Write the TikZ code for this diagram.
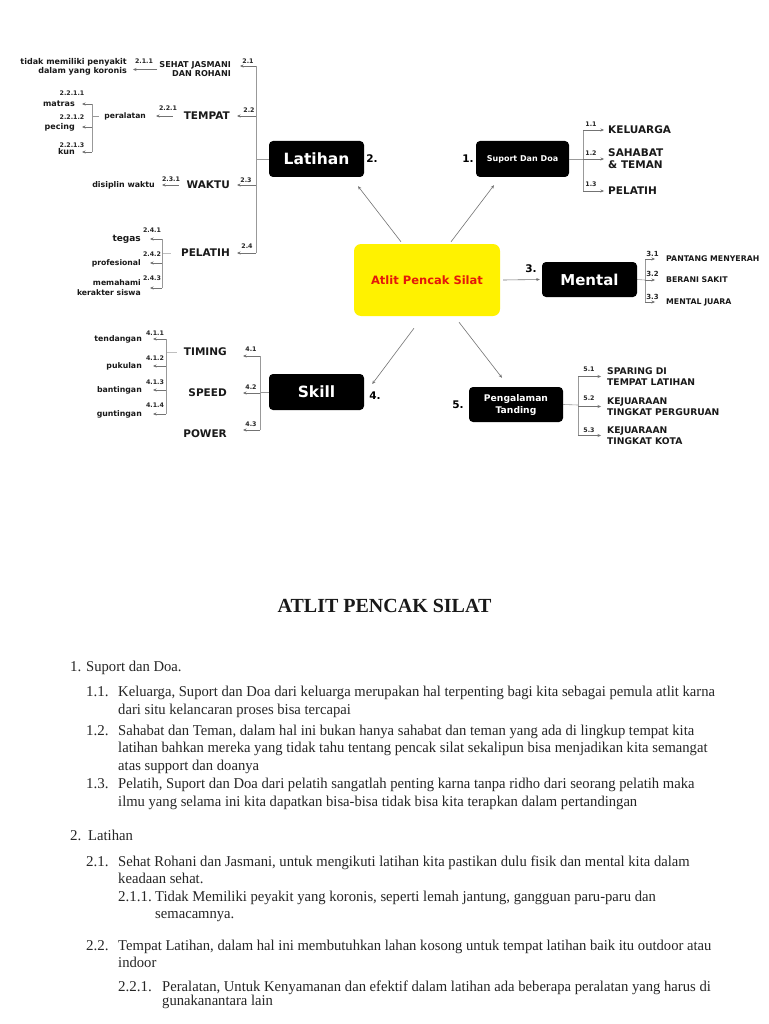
\documentclass[tikz,border=0pt]{standalone}
\usepackage{fontspec}
\setmainfont{Liberation Serif}
\newfontfamily\dv{DejaVu Sans}
\newfontfamily\bodyf{Liberation Serif}[FakeStretch=0.975]
\usetikzlibrary{arrows.meta}
\newcommand{\vf}[2]{\dv\bfseries\fontsize{#1}{#2}\selectfont}
\definecolor{titred}{RGB}{228,24,10}
\tikzset{
  boxn/.style={fill=black, rounded corners=4pt, text=white, minimum width=95pt, minimum height=36pt, inner sep=0pt, align=center},
  mm/.style={inner sep=0pt, text=black!90},
  br/.style={draw=black!40, line width=0.6pt},
  arr/.style={draw=black!55, line width=0.6pt, -{Stealth[length=3.5pt,width=3pt]}},
  nl/.style={inner sep=0pt, font=\vf{6.3}{7}, text=black!85},
  nn/.style={inner sep=0pt, font=\vf{10.5}{12}},
  body/.style={anchor=base west, inner sep=0pt, font=\bodyf\fontsize{15}{18}\selectfont, text=black!85},
  bnum/.style={anchor=base west, inner sep=0pt, font=\fontsize{15}{18}\selectfont, text=black!85}
}
\begin{document}
\begin{tikzpicture}[x=1pt,y=-1pt]
\fill[white] (0,0) rectangle (768,1024);
\useasboundingbox (0,0) rectangle (768,1024);

% ---------- main boxes ----------
\node[fill=yellow, rounded corners=7pt, minimum width=146pt, minimum height=72pt, inner sep=0pt, text=titred, font=\vf{11.5}{13}] (c) at (427,280) {Atlit Pencak Silat};
\node[boxn, font=\vf{15.5}{17}] (lat) at (316.5,159) {Latihan};
\node[boxn, font=\vf{15.5}{17}] (sk) at (316.5,392) {Skill};
\node[boxn, minimum width=93pt, font=\vf{8}{9}] (sup) at (522.5,159) {Suport Dan Doa};
\node[boxn, minimum height=35pt, font=\vf{15}{17}] (men) at (589.5,279.5) {Mental};
\node[boxn, minimum width=94pt, minimum height=35pt, font=\vf{9.2}{12}] (pen) at (516,404.5) {Pengalaman\\Tanding};

\node[nn] (n1) at (468,159) {1.};
\node[nn] (n2) at (372,159) {2.};
\node[nn] (n3) at (531,269) {3.};
\node[nn] (n4) at (375,396) {4.};
\node[nn] (n5) at (458,405) {5.};

% ---------- arrows from centre ----------
\draw[arr] ([xshift=-26pt,yshift=2pt]c.north) -- ([xshift=41.5pt,yshift=-9pt]lat.south);
\draw[arr] ([xshift=24pt,yshift=2pt]c.north) -- ([xshift=-28.5pt,yshift=-8pt]sup.south);
\draw[arr] ([xshift=-13pt,yshift=-12pt]c.south) -- ([xshift=8pt,yshift=8pt]sk.east);
\draw[arr] ([xshift=32pt,yshift=-6pt]c.south) -- ([xshift=-14pt,yshift=9pt]pen.north);
\draw[arr] ([xshift=3pt]c.east) -- ([xshift=-2pt]men.west);

% ---------- 1. Suport dan Doa ----------
\coordinate (sb) at (583,159);
\node[mm, anchor=west, font=\vf{10.5}{12}] (k1) at (608,130) {KELUARGA};
\node[mm, anchor=west, align=left, font=\vf{10.5}{12}] (k2) at (608,159) {SAHABAT\\\& TEMAN};
\node[mm, anchor=west, font=\vf{10.5}{12}] (k3) at (608,191) {PELATIH};
\draw[br] (sup.east) -- (sb);
\draw[br] (sb |- k1) -- (sb |- k3);
\foreach \k in {k1,k2,k3} \draw[arr, shorten >=4pt] (sb |- \k) -- (\k.west);
\node[nl] at (591,124) {1.1};
\node[nl] at (591,153) {1.2};
\node[nl] at (591,184) {1.3};

% ---------- 3. Mental ----------
\coordinate (mb) at (645,280);
\node[mm, anchor=west, font=\vf{7.8}{9}] (m1) at (666,259) {PANTANG MENYERAH};
\node[mm, anchor=west, font=\vf{7.8}{9}] (m2) at (666,280) {BERANI SAKIT};
\node[mm, anchor=west, font=\vf{7.8}{9}] (m3) at (666,302) {MENTAL JUARA};
\draw[br] (men.east) -- (mb);
\draw[br] (mb |- m1) -- (mb |- m3);
\foreach \k in {m1,m2,m3} \draw[arr, shorten >=11pt] (mb |- \k) -- (\k.west);
\node[nl, font=\vf{7}{8}] at (652.5,254) {3.1};
\node[nl, font=\vf{7}{8}] at (652.5,274) {3.2};
\node[nl, font=\vf{7}{8}] at (652.5,297) {3.3};

% ---------- 5. Pengalaman Tanding ----------
\coordinate (pb) at (578,405);
\node[mm, anchor=west, align=left, font=\vf{9.2}{11}] (p1) at (607,376.5) {SPARING DI\\TEMPAT LATIHAN};
\node[mm, anchor=west, align=left, font=\vf{9.2}{11}] (p2) at (607,406.5) {KEJUARAAN\\TINGKAT PERGURUAN};
\node[mm, anchor=west, align=left, font=\vf{9.2}{11}] (p3) at (607,435.5) {KEJUARAAN\\TINGKAT KOTA};
\draw[br] (pen.east) -- (pb);
\draw[br] (pb |- p1) -- (pb |- p3);
\foreach \k in {p1,p2,p3} \draw[arr, shorten >=6pt] (pb |- \k) -- (\k.west);
\node[nl] at (589,369) {5.1};
\node[nl] at (589,398) {5.2};
\node[nl] at (589,430) {5.3};

% ---------- 2. Latihan ----------
\coordinate (lb) at (256,159);
\coordinate (lt) at (256,66);
\node[mm, anchor=east, align=right, font=\vf{8.1}{9}] (s21) at (231,69.5) {SEHAT JASMANI\\DAN ROHANI};
\node[mm, anchor=east, font=\vf{10.5}{12}] (s22) at (230,116) {TEMPAT};
\node[mm, anchor=east, font=\vf{10.5}{12}] (s23) at (230,185) {WAKTU};
\node[mm, anchor=east, font=\vf{10.5}{12}] (s24) at (230,253) {PELATIH};
\draw[br] (lat.west) -- (lb);
\draw[br] (lt) -- (lb |- s24);
\draw[arr, shorten >=9pt] (lt) -- (lt -| s21.east);
\foreach \k in {s22,s23,s24} \draw[arr, shorten >=7pt] (lb |- \k) -- (\k.east);
\node[nl] at (248,61) {2.1};
\node[nl] at (249,110) {2.2};
\node[nl] at (246,180) {2.3};
\node[nl] at (247,246) {2.4};

% 2.1.1
\node[mm, anchor=east, align=right, font=\vf{8}{9}] (s211) at (127,66.5) {tidak memiliki penyakit\\dalam yang koronis};
\draw[arr, shorten <=2pt, shorten >=6pt] (s21.west) -- (s21.west -| s211.east);
\node[nl] at (144,61) {2.1.1};

% 2.2.1
\node[mm, anchor=east, font=\vf{7.6}{9}] (s221) at (146,116) {peralatan};
\draw[arr, shorten <=11pt, shorten >=10pt] (s22.west) -- (s22.west -| s221.east);
\node[nl] at (168,108) {2.2.1};
\coordinate (pv) at (92,116);
\node[mm, anchor=east, font=\vf{8}{9}] (q1) at (75,104) {matras};
\node[mm, anchor=east, font=\vf{8}{9}] (q2) at (75,127) {pecing};
\node[mm, anchor=east, font=\vf{8}{9}] (q3) at (75,152) {kun};
\draw[br] ([xshift=-5pt]s221.west) -- (pv);
\draw[br] (pv |- q1) -- (pv |- q3);
\foreach \k in {q1,q2,q3} \draw[arr, shorten >=7pt] (pv |- \k) -- (\k.east);
\node[nl] at (72,93) {2.2.1.1};
\node[nl] at (72,117) {2.2.1.2};
\node[nl] at (72,145) {2.2.1.3};

% 2.3.1
\node[mm, anchor=east, font=\vf{7.9}{9}] (s231) at (155,185) {disiplin waktu};
\draw[arr, shorten <=8pt, shorten >=7pt] (s23.west) -- (s23.west -| s231.east);
\node[nl] at (171,179) {2.3.1};

% 2.4.x
\coordinate (qv) at (162,251);
\node[mm, anchor=east, font=\vf{9}{10}] (t1) at (141,239) {tegas};
\node[mm, anchor=east, font=\vf{7.7}{9}] (t2) at (141,263) {profesional};
\node[mm, anchor=east, align=right, font=\vf{7.7}{10}] (t3) at (141,288) {memahami\\kerakter siswa};
\draw[br, draw=black!25] ([xshift=-10pt]s24.west) -- (qv |- s24);
\draw[br] (qv |- t1) -- (qv |- t3);
\foreach \k in {t1,t2,t3} \draw[arr, shorten >=9pt] (qv |- \k) -- (\k.east);
\node[nl] at (152,230) {2.4.1};
\node[nl] at (152,254) {2.4.2};
\node[nl] at (152,278) {2.4.3};

% ---------- 4. Skill ----------
\coordinate (kb) at (260,392);
\coordinate (kb1) at (260,356);
\coordinate (kb3) at (260,430);
\node[mm, anchor=east, font=\vf{10.5}{12}] (tm) at (227,352) {TIMING};
\node[mm, anchor=east, font=\vf{10.5}{12}] (sp) at (227,393) {SPEED};
\node[mm, anchor=east, font=\vf{10.5}{12}] (pw) at (227,434) {POWER};
\draw[br] (sk.west) -- (kb);
\draw[br] (kb1) -- (kb3);
\draw[arr, shorten >=16pt] (kb1) -- (kb1 -| tm.east);
\draw[arr, shorten >=16pt] (kb |- sp) -- (sp.east);
\draw[arr, shorten >=16pt] (kb3) -- (kb3 -| pw.east);
\node[nl] at (251,349) {4.1};
\node[nl] at (251,387) {4.2};
\node[nl] at (251,424) {4.3};

\coordinate (tv) at (166,352);
\node[mm, anchor=east, font=\vf{7.8}{9}] (i1) at (142,339) {tendangan};
\node[mm, anchor=east, font=\vf{7.8}{9}] (i2) at (142,366) {pukulan};
\node[mm, anchor=east, font=\vf{7.8}{9}] (i3) at (142,390) {bantingan};
\node[mm, anchor=east, font=\vf{7.8}{9}] (i4) at (142,414) {guntingan};
\draw[br, draw=black!25] ([xshift=-7pt]tm.west) -- (tv);
\draw[br] (tv |- i1) -- (tv |- i4);
\foreach \k in {i1,i2,i3,i4} \draw[arr, shorten >=11pt] (tv |- \k) -- (\k.east);
\node[nl] at (155,333) {4.1.1};
\node[nl] at (155,358) {4.1.2};
\node[nl] at (155,382) {4.1.3};
\node[nl] at (155,405) {4.1.4};

% ---------- text ----------
\node[inner sep=0pt, font=\bfseries\fontsize{20}{24}\selectfont, text=black!90] (title) at (384.5,606) {ATLIT PENCAK SILAT};

\node[bnum] (l1n) at (70,671) {1.};
\node[body] (l1) at (86,671) {Suport dan Doa.};
\node[bnum] (l11n) at (86,696) {1.1.};
\node[body] (l11a) at (118,696) {Keluarga, Suport dan Doa dari keluarga merupakan hal terpenting bagi kita sebagai pemula atlit karna};
\node[body] (l11b) at (118,714) {dari situ kelancaran proses bisa tercapai};
\node[bnum] (l12n) at (86,735) {1.2.};
\node[body] (l12a) at (118,735) {Sahabat dan Teman, dalam hal ini bukan hanya sahabat dan teman yang ada di lingkup tempat kita};
\node[body] (l12b) at (118,752) {latihan bahkan mereka yang tidak tahu tentang pencak silat sekalipun bisa menjadikan kita semangat};
\node[body] (l12c) at (118,770) {atas support dan doanya};
\node[bnum] (l13n) at (86,788) {1.3.};
\node[body] (l13a) at (118,788) {Pelatih, Suport dan Doa dari pelatih sangatlah penting karna tanpa ridho dari seorang pelatih maka};
\node[body] (l13b) at (118,806) {ilmu yang selama ini kita dapatkan bisa-bisa tidak bisa kita terapkan dalam pertandingan};

\node[bnum] (l2n) at (70,840) {2.};
\node[body] (l2) at (88,840) {Latihan};
\node[bnum] (l21n) at (86,866) {2.1.};
\node[body] (l21a) at (118,866) {Sehat Rohani dan Jasmani, untuk mengikuti latihan kita pastikan dulu fisik dan mental kita dalam};
\node[body] (l21b) at (118,883) {keadaan sehat.};
\node[bnum] (l211n) at (118,901) {2.1.1.};
\node[body] (l211a) at (155,901) {Tidak Memiliki peyakit yang koronis, seperti lemah jantung, gangguan paru-paru dan};
\node[body] (l211b) at (155,918) {semacamnya.};
\node[bnum] (l22n) at (86,950) {2.2.};
\node[body] (l22a) at (118,950) {Tempat Latihan, dalam hal ini membutuhkan lahan kosong untuk tempat latihan baik itu outdoor atau};
\node[body] (l22b) at (118,967) {indoor};
\node[bnum] (l221n) at (118,991) {2.2.1.};
\node[body] (l221a) at (162,991) {Peralatan, Untuk Kenyamanan dan efektif dalam latihan ada beberapa peralatan yang harus di};
\node[body] (l221b) at (162,1005) {gunakanantara lain};
\end{tikzpicture}
\end{document}
